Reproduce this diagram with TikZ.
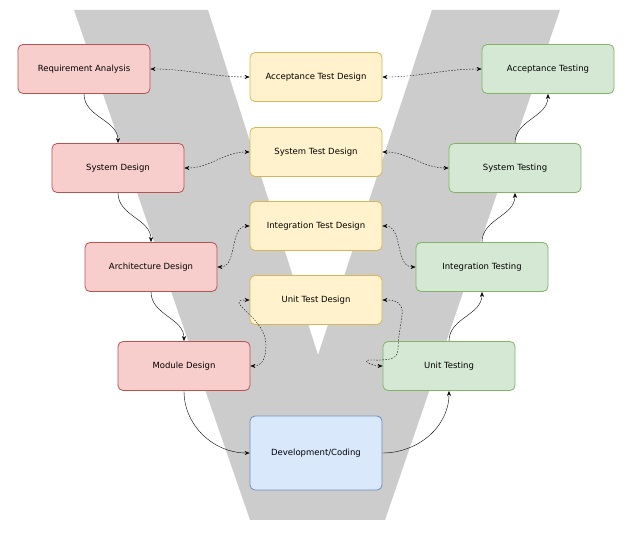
\documentclass[tikz,border=0pt]{standalone}
\usepackage{fontspec}
\setmainfont{DejaVu Sans}
\usetikzlibrary{positioning,arrows.meta}
\definecolor{redfill}{HTML}{F8CECC}
\definecolor{redline}{HTML}{B85450}
\definecolor{yelfill}{HTML}{FFF2CC}
\definecolor{yelline}{HTML}{D6B656}
\definecolor{grnfill}{HTML}{D5E8D4}
\definecolor{grnline}{HTML}{82B366}
\definecolor{blufill}{HTML}{DAE8FC}
\definecolor{bluline}{HTML}{6C8EBF}
\definecolor{vgray}{HTML}{CCCCCC}
\begin{document}
\begin{tikzpicture}[x=1pt,y=-1pt,
        box/.style={draw,rectangle,rounded corners=5pt,minimum width=132pt,minimum height=49pt,
            font=\fontsize{8.5}{10}\selectfont,align=center,line width=0.8pt},
        spec/.style={box,fill=redfill,draw=redline},
        test/.style={box,fill=yelfill,draw=yelline},
        done/.style={box,fill=grnfill,draw=grnline},
        flow/.style={-{Stealth[length=5pt,width=4pt]},thin},
        link/.style={{Stealth[length=5pt,width=4pt]}-{Stealth[length=5pt,width=4pt]},thin,dash pattern=on 1.5pt off 1.5pt}]
        \useasboundingbox (0,0) rectangle (627,534);
        % the V
        \fill [vgray] (74,10) -- (208,10) -- (318,355) -- (432,10) -- (560,10) -- (385,520) -- (250,520) -- cycle;
        % left arm
        \node (req) [spec] at (84,69) {Requirement Analysis};
        \node (sysd) [spec] at (118,168) {System Design};
        \node (arch) [spec] at (151,267) {Architecture Design};
        \node (mod) [spec] at (184,366) {Module Design};
        % middle
        \node (atd) [test] at (316,77) {Acceptance Test Design};
        \node (std) [test] at (316,152) {System Test Design};
        \node (itd) [test] at (316,226) {Integration Test Design};
        \node (utd) [test] at (316,300) {Unit Test Design};
        \node (dev) [box,fill=blufill,draw=bluline,minimum height=74pt] at (316,453) {Development/Coding};
        % right arm
        \node (acc) [done] at (548,69) {Acceptance Testing};
        \node (syst) [done] at (515,168) {System Testing};
        \node (intt) [done] at (482,267) {Integration Testing};
        \node (unit) [done] at (449,366) {Unit Testing};
        % down and up
        \draw [flow] (req.south) to[out=-90,in=90] (sysd.north);
        \draw [flow] (sysd.south) to[out=-90,in=90] (arch.north);
        \draw [flow] (arch.south) to[out=-90,in=90] (mod.north);
        \draw [flow] (mod.south) to[out=-90,in=180] (dev.west);
        \draw [flow] (dev.east) to[out=0,in=-90] (unit.south);
        \draw [flow] (unit.north) to[out=90,in=-90] (intt.south);
        \draw [flow] (intt.north) to[out=90,in=-90] (syst.south);
        \draw [flow] (syst.north) to[out=90,in=-90] (acc.south);
        % links
        \draw [link] (req.east) to[out=0,in=180] (atd.west);
        \draw [link] (atd.east) to[out=0,in=180] (acc.west);
        \draw [link] (sysd.east) to[out=0,in=180] (std.west);
        \draw [link] (std.east) to[out=0,in=180] (syst.west);
        \draw [link] (arch.east) to[out=0,in=180] (itd.west);
        \draw [link] (itd.east) to[out=0,in=180] (intt.west);
        \draw [link] (mod.east) to[out=0,in=-90,looseness=1.2] (266,345) to[out=90,in=180,looseness=1.5] (utd.west);
        \draw [link] (utd.east) to[out=0,in=90,looseness=1.5] (398,350) to[out=-90,in=0] (370,360) to[out=180,in=180,looseness=1.8] (unit.west);
    \end{tikzpicture}
\end{document}
